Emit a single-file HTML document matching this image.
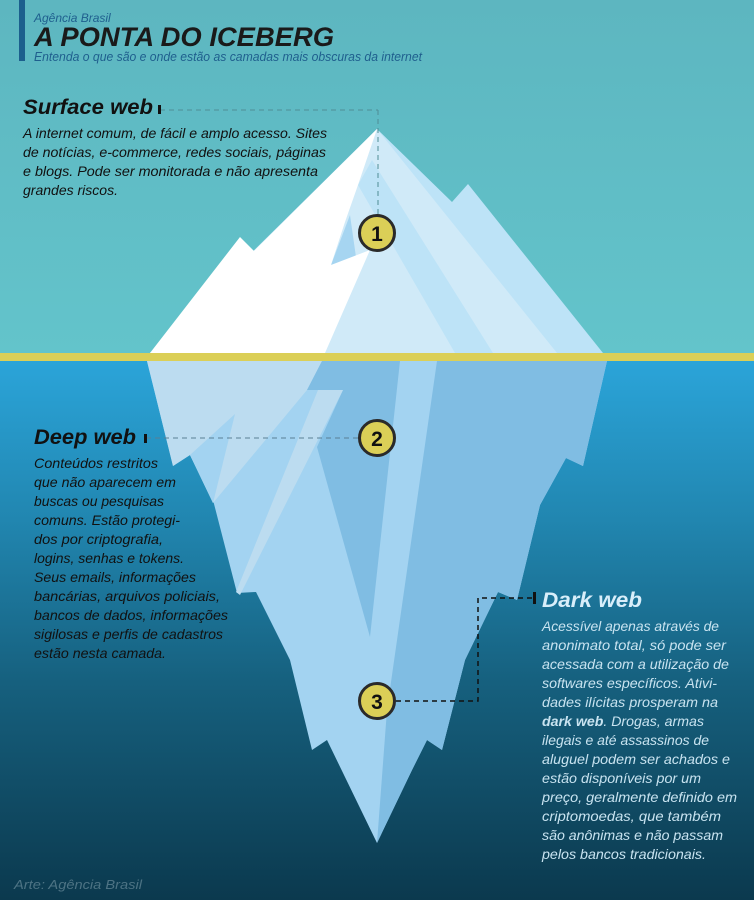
<!DOCTYPE html>
<html><head><meta charset="utf-8"><style>
html,body{margin:0;padding:0;width:754px;height:900px;overflow:hidden}
svg{display:block}
text{font-family:"Liberation Sans","DejaVu Sans",sans-serif;font-style:italic}
</style></head><body>
<svg width="754" height="900" viewBox="0 0 754 900" xmlns="http://www.w3.org/2000/svg">
<defs>
<linearGradient id="sky" x1="0" y1="0" x2="0" y2="1">
<stop offset="0" stop-color="#5db6c0"/><stop offset="1" stop-color="#63c4cb"/>
</linearGradient>
<linearGradient id="sea" x1="0" y1="0" x2="0" y2="1">
<stop offset="0" stop-color="#2ba5da"/><stop offset="0.3" stop-color="#2186b0"/>
<stop offset="0.6" stop-color="#16607e"/><stop offset="1" stop-color="#0b394e"/>
</linearGradient>
</defs>
<rect x="0" y="0" width="754" height="357" fill="url(#sky)"/>
<rect x="0" y="357" width="754" height="543" fill="url(#sea)"/>

<!-- above water -->
<polygon points="377,129 452,202 468,184 603,353 150,353" fill="#bde3f7"/>
<polygon points="377,129 557,353 150,353" fill="#d0eaf8"/>
<polygon points="358,185 372,160 493,353 455,353" fill="#bde3f7"/>
<polygon points="350,215 331,265 356,257" fill="#a6d5f1"/>
<polygon points="377,129 358,185 345,222 331,265 370,250 325,353 150,353 240,237 254,251" fill="#ffffff"/>

<!-- below water -->
<polygon points="147,361 607,361 583,466 566,458 540,505 517,600 498,592 465,660 442,750 427,740 412,770 377,843 327,740 312,750 290,660 256,592 237,593 213,500 190,455 173,466" fill="#a3d3f1"/>
<polygon points="437,361 607,361 583,466 566,458 540,505 517,600 498,592 465,660 442,750 427,740 412,770 377,843 387,710" fill="#80bde3"/>
<polygon points="147,361 322,361 307,390 213,503 190,455 173,466" fill="#bcdcf0"/>
<polygon points="235,414 213,503 190,455" fill="#a3d3f1"/>
<polygon points="322,361 400,361 370,637 317,447 343,390 307,390" fill="#80bde3"/>
<polygon points="318,390 343,390 240,595 236,592" fill="#bcdcf0"/>

<!-- waterline -->
<rect x="0" y="353" width="754" height="8" fill="#dbcf57"/>

<!-- connectors -->
<line x1="160" y1="110" x2="378" y2="110" stroke="#4f8e96" stroke-width="1" stroke-dasharray="5,4"/>
<line x1="378" y1="110" x2="378" y2="215" stroke="#4f8e96" stroke-width="1" stroke-dasharray="5,4"/>
<rect x="158" y="105" width="3" height="9" fill="#111"/>
<line x1="146" y1="438" x2="358" y2="438" stroke="#5a7f95" stroke-width="1" stroke-dasharray="5,4"/>
<rect x="144" y="434" width="3" height="9" fill="#111"/>
<polyline points="396,701 478,701 478,598 534,598" fill="none" stroke="#111" stroke-width="1.5" stroke-dasharray="5,4"/>
<rect x="533" y="592" width="3" height="12" fill="#111"/>

<!-- circles -->
<g font-weight="bold" font-style="normal">
<circle cx="377" cy="233" r="17.5" fill="#dbcf57" stroke="#2a2a2a" stroke-width="3"/>
<text x="377" y="241" text-anchor="middle" font-size="21" font-weight="bold" style="font-style:normal" fill="#111">1</text>
<circle cx="377" cy="438" r="17.5" fill="#dbcf57" stroke="#2a2a2a" stroke-width="3"/>
<text x="377" y="446" text-anchor="middle" font-size="21" font-weight="bold" style="font-style:normal" fill="#111">2</text>
<circle cx="377" cy="701" r="17.5" fill="#dbcf57" stroke="#2a2a2a" stroke-width="3"/>
<text x="377" y="709" text-anchor="middle" font-size="21" font-weight="bold" style="font-style:normal" fill="#111">3</text>
</g>

<!-- header -->
<rect x="19" y="0" width="6" height="61" fill="#1c5f8d"/>
<text x="34" y="22" font-size="12" fill="#1f5f8e">Agência Brasil</text>
<text x="34" y="46" font-size="27" font-weight="bold" fill="#1a1a1a" textLength="300" lengthAdjust="spacingAndGlyphs">A PONTA DO ICEBERG</text>
<text x="34" y="61" font-size="12.5" fill="#1f5f8e" textLength="388" lengthAdjust="spacingAndGlyphs">Entenda o que são e onde estão as camadas mais obscuras da internet</text>

<!-- surface -->
<text x="23" y="114" font-size="21" font-weight="bold" fill="#111" textLength="130" lengthAdjust="spacingAndGlyphs">Surface web</text>
<g font-size="14" fill="#111">
<text x="23" y="138" textLength="304" lengthAdjust="spacingAndGlyphs">A internet comum, de fácil e amplo acesso. Sites</text>
<text x="23" y="157" textLength="303" lengthAdjust="spacingAndGlyphs">de notícias, e-commerce, redes sociais, páginas</text>
<text x="23" y="176" textLength="295" lengthAdjust="spacingAndGlyphs">e blogs. Pode ser monitorada e não apresenta</text>
<text x="23" y="195" textLength="95" lengthAdjust="spacingAndGlyphs">grandes riscos.</text>
</g>

<!-- deep -->
<text x="34" y="444" font-size="21" font-weight="bold" fill="#111" textLength="102" lengthAdjust="spacingAndGlyphs">Deep web</text>
<g font-size="14" fill="#111">
<text x="34" y="468" textLength="124" lengthAdjust="spacingAndGlyphs">Conteúdos restritos</text>
<text x="34" y="487" textLength="142" lengthAdjust="spacingAndGlyphs">que não aparecem em</text>
<text x="34" y="506" textLength="130" lengthAdjust="spacingAndGlyphs">buscas ou pesquisas</text>
<text x="34" y="525" textLength="146" lengthAdjust="spacingAndGlyphs">comuns. Estão protegi-</text>
<text x="34" y="544" textLength="129" lengthAdjust="spacingAndGlyphs">dos por criptografia,</text>
<text x="34" y="563" textLength="150" lengthAdjust="spacingAndGlyphs">logins, senhas e tokens.</text>
<text x="34" y="582" textLength="162" lengthAdjust="spacingAndGlyphs">Seus emails, informações</text>
<text x="34" y="601" textLength="186" lengthAdjust="spacingAndGlyphs">bancárias, arquivos policiais,</text>
<text x="34" y="620" textLength="194" lengthAdjust="spacingAndGlyphs">bancos de dados, informações</text>
<text x="34" y="639" textLength="189" lengthAdjust="spacingAndGlyphs">sigilosas e perfis de cadastros</text>
<text x="34" y="658" textLength="132" lengthAdjust="spacingAndGlyphs">estão nesta camada.</text>
</g>

<!-- dark -->
<text x="542" y="607" font-size="21" font-weight="bold" fill="#d8eefa" textLength="100" lengthAdjust="spacingAndGlyphs">Dark web</text>
<g font-size="14" fill="#c8e3f0">
<text x="542" y="631" textLength="177" lengthAdjust="spacingAndGlyphs">Acessível apenas através de</text>
<text x="542" y="650" textLength="184" lengthAdjust="spacingAndGlyphs">anonimato total, só pode ser</text>
<text x="542" y="669" textLength="187" lengthAdjust="spacingAndGlyphs">acessada com a utilização de</text>
<text x="542" y="688" textLength="175" lengthAdjust="spacingAndGlyphs">softwares específicos. Ativi-</text>
<text x="542" y="707" textLength="176" lengthAdjust="spacingAndGlyphs">dades ilícitas prosperam na</text>
<text x="542" y="726" textLength="162" lengthAdjust="spacingAndGlyphs"><tspan font-weight="bold">dark web</tspan>. Drogas, armas</text>
<text x="542" y="745" textLength="167" lengthAdjust="spacingAndGlyphs">ilegais e até assassinos de</text>
<text x="542" y="764" textLength="188" lengthAdjust="spacingAndGlyphs">aluguel podem ser achados e</text>
<text x="542" y="783" textLength="159" lengthAdjust="spacingAndGlyphs">estão disponíveis por um</text>
<text x="542" y="802" textLength="195" lengthAdjust="spacingAndGlyphs">preço, geralmente definido em</text>
<text x="542" y="821" textLength="179" lengthAdjust="spacingAndGlyphs">criptomoedas, que também</text>
<text x="542" y="840" textLength="181" lengthAdjust="spacingAndGlyphs">são anônimas e não passam</text>
<text x="542" y="859" textLength="164" lengthAdjust="spacingAndGlyphs">pelos bancos tradicionais.</text>
</g>

<text x="14" y="889" font-size="13" fill="#4d7384" textLength="128" lengthAdjust="spacingAndGlyphs">Arte: Agência Brasil</text>
</svg>
</body></html>
